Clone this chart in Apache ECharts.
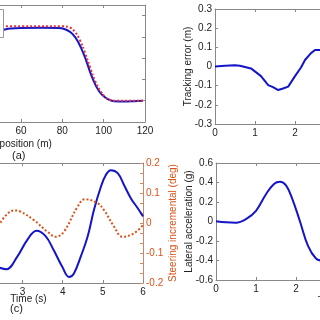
<!DOCTYPE html>
<html><head><meta charset="utf-8">
<script src="https://cdn.jsdelivr.net/npm/echarts@6/dist/echarts.min.js"></script>
<style>html,body{margin:0;padding:0;background:#fff}#c{width:320px;height:320px}</style>
</head><body><div id="c"></div>
<script>
// (a) lateral position vs X position
const aBlueX = [45, 50, 55, 60, 70, 78, 81, 84, 86.5, 89, 91.5, 94, 96.5, 99, 102, 105, 110, 115, 119];
const aBlueY = [3.25, 3.31, 3.39, 3.42, 3.43, 3.42, 3.37, 3.22, 2.95, 2.5, 1.9, 1.2, 0.65, 0.3, 0.08, -0.02, -0.04, -0.02, 0];
const aRedX = [45, 60, 80, 83.5, 86, 88.5, 91, 93.5, 96, 98.5, 101, 103.5, 106, 112, 119];
const aRedY = [3.5, 3.5, 3.5, 3.45, 3.25, 2.85, 2.25, 1.55, 0.9, 0.45, 0.15, 0.02, 0, 0, 0];
// (b) tracking error
const bT = [0, 0.25, 0.5, 0.62, 0.9, 1.15, 1.33, 1.45, 1.58, 1.7, 1.83, 2.0, 2.15, 2.25, 2.4, 2.5, 2.7];
const bErr = [0, 0.004, 0.006, 0.004, -0.01, -0.05, -0.097, -0.108, -0.123, -0.115, -0.105, -0.05, -0.005, 0.034, 0.07, 0.086, 0.086];
// (c) blue (left axis) and steering incremental (right axis)
const cT = [2.4, 2.6, 2.87, 3.12, 3.35, 3.575, 3.775, 3.99, 4.16, 4.28, 4.45, 4.62, 4.78, 4.95, 5.075, 5.2, 5.37, 5.53, 5.7, 5.87, 6.0];
const cBlue = [-0.74, -0.77, -0.56, -0.28, -0.13, -0.22, -0.45, -0.73, -0.9, -0.84, -0.56, -0.23, 0.22, 0.6, 0.8, 0.88, 0.83, 0.63, 0.41, 0.245, 0.11];
const cT2 = [2.4, 2.78, 2.95, 3.28, 3.62, 3.83, 4.03, 4.37, 4.55, 4.87, 5.03, 5.28, 5.49, 5.78, 6.0];
const cSteer = [-0.01, 0.042, 0.038, 0.01, -0.029, -0.046, -0.029, 0.054, 0.079, 0.066, 0.043, -0.012, -0.046, -0.034, -0.007];
// (d) lateral acceleration
const dT = [0, 0.25, 0.5, 0.75, 1.0, 1.25, 1.45, 1.6, 1.75, 1.9, 2.1, 2.3, 2.5, 2.65, 2.8];
const dAcc = [0.003, -0.008, -0.012, 0.025, 0.11, 0.28, 0.385, 0.408, 0.37, 0.24, 0.0, -0.25, -0.38, -0.4, -0.38];

const pairs = (xs, ys) => xs.map((x, i) => [x, ys[i]]);
const FONT = 'Liberation Sans, Arial, sans-serif';
const TXT = '#222';
const AX = '#888';
const ORANGE = '#D95319';
const BLUE = '#1414c8';
const fmt = v => String(parseFloat(Number(v).toFixed(2)));

function xAx(grid, pos, min, max, interval, opts) {
  return Object.assign({
    type: 'value', gridIndex: grid, position: pos, min, max, interval,
    splitLine: { show: false },
    axisLine: { show: true, onZero: false, lineStyle: { color: AX, width: 1 } },
    axisTick: { show: true, inside: true, length: 3, lineStyle: { color: AX } },
    axisLabel: { show: pos === 'bottom', margin: 4, color: TXT, fontSize: 10, fontFamily: FONT, formatter: fmt }
  }, opts || {});
}
function yAx(grid, pos, min, max, interval, opts) {
  return Object.assign({
    type: 'value', gridIndex: grid, position: pos, min, max, interval,
    splitLine: { show: false },
    axisLine: { show: true, onZero: false, lineStyle: { color: AX, width: 1 } },
    axisTick: { show: true, inside: true, length: 3, lineStyle: { color: AX } },
    axisLabel: { show: pos === 'left', margin: 3, color: TXT, fontSize: 10, fontFamily: FONT, formatter: fmt }
  }, opts || {});
}

const chart = echarts.init(document.getElementById('c'), null, { renderer: 'canvas' });
chart.setOption({
  animation: false,
  backgroundColor: '#fff',
  grid: [
    { left: -103, right: 175, top: 5, bottom: 198, outerBoundsMode: 'none', containLabel: false },
    { left: 215, right: -175, top: 9, bottom: 196, outerBoundsMode: 'none', containLabel: false },
    { left: -98, right: 177, top: 163, bottom: 37, outerBoundsMode: 'none', containLabel: false },
    { left: 216, right: -136, top: 163, bottom: 40, outerBoundsMode: 'none', containLabel: false }
  ],
  xAxis: [
    xAx(0, 'bottom', 0, 120, 20, { name: 'X position (m)', nameLocation: 'middle', nameGap: 17, nameMoveOverlap: false,
      nameTextStyle: { color: TXT, fontSize: 10, fontFamily: FONT } }),
    xAx(0, 'top', 0, 120, 20),
    xAx(1, 'bottom', 0, 7, 1, { name: 'Time (s)', nameLocation: 'middle', nameGap: 16, nameMoveOverlap: false,
      nameTextStyle: { color: TXT, fontSize: 10, fontFamily: FONT } }),
    xAx(1, 'top', 0, 7, 1),
    xAx(2, 'bottom', 0, 6, 1, { name: 'Time (s)', nameLocation: 'middle', nameGap: 11, nameMoveOverlap: false,
      nameTextStyle: { color: TXT, fontSize: 10, fontFamily: FONT, padding: [0, 0, 0, 12] } }),
    xAx(2, 'top', 0, 6, 1),
    xAx(3, 'bottom', 0, 6, 1, { name: 'Time (s)', nameLocation: 'middle', nameGap: 16, nameMoveOverlap: false,
      nameTextStyle: { color: TXT, fontSize: 10, fontFamily: FONT } }),
    xAx(3, 'top', 0, 6, 1)
  ],
  yAxis: [
    yAx(0, 'left', -1, 4.5, 1),
    yAx(0, 'right', -1, 4.5, 1),
    yAx(1, 'left', -0.3, 0.3, 0.1, { name: 'Tracking error (m)', nameLocation: 'middle', nameGap: 22, nameRotate: 90,
      nameMoveOverlap: false, nameTextStyle: { color: TXT, fontSize: 10, fontFamily: FONT } }),
    yAx(1, 'right', -0.3, 0.3, 0.1),
    yAx(2, 'left', -1, 1, 0.5),
    yAx(2, 'right', -0.2, 0.2, 0.1, {
      axisLabel: { show: true, margin: 3, color: ORANGE, fontSize: 10, fontFamily: FONT, formatter: fmt },
      minorTick: { show: true, splitNumber: 3, length: 3, lineStyle: { color: '#c98a6a' } },
      axisTick: { show: true, inside: true, length: 3, lineStyle: { color: '#c98a6a' } },
      axisLine: { show: true, onZero: false, lineStyle: { color: '#c98a6a', width: 1 } },
      name: 'Steering incremental (deg)', nameLocation: 'middle', nameGap: 25, nameRotate: 90, nameMoveOverlap: false,
      nameTextStyle: { color: ORANGE, fontSize: 10, fontFamily: FONT } }),
    yAx(3, 'left', -0.6, 0.6, 0.2, { name: 'Lateral acceleration (g)', nameLocation: 'middle', nameGap: 22, nameRotate: 90,
      nameMoveOverlap: false, nameTextStyle: { color: TXT, fontSize: 10, fontFamily: FONT } }),
    yAx(3, 'right', -0.6, 0.6, 0.2)
  ],
  series: [
    { type: 'line', xAxisIndex: 0, yAxisIndex: 0, data: pairs(aBlueX, aBlueY), smooth: 0.4, showSymbol: false,
      lineStyle: { color: BLUE, width: 2 } },
    { type: 'line', xAxisIndex: 0, yAxisIndex: 0, data: pairs(aRedX, aRedY), smooth: 0.4, showSymbol: false,
      lineStyle: { color: '#e8303a', width: 2, type: 'dotted' } },
    { type: 'line', xAxisIndex: 2, yAxisIndex: 2, data: pairs(bT, bErr), smooth: false, showSymbol: false,
      lineStyle: { color: BLUE, width: 2 } },
    { type: 'line', xAxisIndex: 4, yAxisIndex: 4, data: pairs(cT, cBlue), smooth: 0.4, showSymbol: false,
      lineStyle: { color: BLUE, width: 2 } },
    { type: 'line', xAxisIndex: 4, yAxisIndex: 5, data: pairs(cT2, cSteer), smooth: 0.4, showSymbol: false,
      lineStyle: { color: ORANGE, width: 2, type: 'dotted' } },
    { type: 'line', xAxisIndex: 6, yAxisIndex: 6, data: pairs(dT, dAcc), smooth: 0.4, showSymbol: false,
      lineStyle: { color: BLUE, width: 2 } }
  ],
  graphic: [
    { type: 'rect', left: -50, top: 9, shape: { width: 53, height: 28 }, z: 100,
      style: { fill: '#fff', stroke: '#999', lineWidth: 1 } },
    { type: 'text', left: 12, top: 150, z: 100, style: { text: '(a)', fill: TXT, font: '11px ' + FONT } },
    { type: 'text', left: 10, top: 303, z: 100, style: { text: '(c)', fill: TXT, font: '11px ' + FONT } }
  ]
});
</script></body></html>
